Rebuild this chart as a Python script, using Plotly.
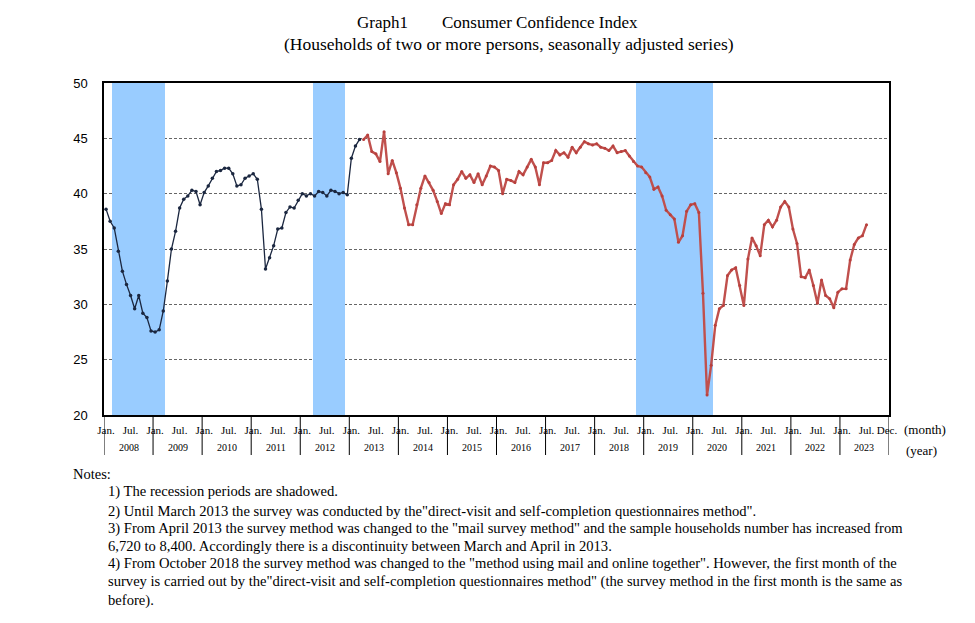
import plotly.graph_objects as go

# ---------------- data ----------------
start_year = 2008
end_year = 2023
# Jan 2008 - Mar 2013 (direct-visit survey)
values_old = [
    38.6, 37.5, 36.9, 34.8, 33.0, 31.8, 30.8, 29.6, 30.8, 29.2, 28.8, 27.6,   # 2008
    27.5, 27.7, 29.4, 32.1, 35.0, 36.6, 38.7, 39.5, 39.8, 40.3, 40.2, 39.0,   # 2009
    40.1, 40.7, 41.4, 42.0, 42.1, 42.3, 42.3, 41.8, 40.7, 40.8, 41.4, 41.6,   # 2010
    41.8, 41.3, 38.6, 33.2, 34.2, 35.3, 36.8, 36.9, 38.3, 38.8, 38.7, 39.4,   # 2011
    40.0, 39.8, 40.0, 39.8, 40.2, 40.1, 39.8, 40.3, 40.2, 40.0, 40.1, 39.9,   # 2012
    43.2, 44.3, 44.9,                                                         # 2013 Jan-Mar
]
# Apr 2013 - Jul 2023 (mail / mail+online survey)
values_new = [
    44.9, 45.3, 43.8, 43.6, 42.9, 45.6, 41.8, 43.0, 41.9,                     # 2013 Apr-Dec
    40.5, 38.7, 37.2, 37.2, 39.0, 40.5, 41.6, 41.0, 40.3, 39.3, 38.2, 39.1,   # 2014
    39.0, 40.8, 41.3, 42.0, 41.4, 41.7, 41.0, 41.8, 40.8, 41.6, 42.5, 42.4,   # 2015
    42.1, 40.0, 41.3, 41.2, 41.0, 42.0, 41.7, 42.4, 43.1, 42.4, 40.8, 42.8,   # 2016
    42.8, 43.0, 43.9, 43.5, 43.7, 43.3, 44.2, 43.7, 44.2, 44.7, 44.5, 44.4,   # 2017
    44.5, 44.2, 44.1, 43.9, 44.3, 43.7, 43.8, 43.9, 43.4, 42.9, 42.5, 42.4,   # 2018
    41.9, 41.5, 40.4, 40.6, 39.8, 38.5, 38.1, 37.7, 35.6, 36.2, 38.4, 39.0,   # 2019
    39.1, 38.3, 31.0, 21.8, 24.5, 28.1, 29.6, 29.9, 32.6, 33.1, 33.3, 31.7,   # 2020
    29.9, 34.1, 36.0, 35.3, 34.4, 37.2, 37.6, 37.0, 37.6, 38.8, 39.3, 38.8,   # 2021
    36.8, 35.5, 32.5, 32.4, 33.1, 31.7, 30.1, 32.2, 30.8, 30.5, 29.7, 31.1,   # 2022
    31.4, 31.4, 34.0, 35.4, 36.0, 36.2, 37.2,                                 # 2023 Jan-Jul
]
# recession periods (peak month, trough month)
recession_peaks = ["2008-02", "2012-03", "2018-10"]
recession_troughs = ["2009-03", "2012-11", "2020-05"]

years = list(range(start_year, end_year + 1))
month_tick_labels = ["Jan.", "Jul."]
last_month_label = "Dec."
y_ticks = [20, 25, 30, 35, 40, 45, 50]

title_line1 = "Graph1" + "\u00a0" * 8 + "Consumer Confidence Index"
title_line2 = "(Households of two or more persons, seasonally adjusted series)"
notes = [
    "1) The recession periods are shadowed.",
    "2) Until March 2013 the survey was conducted by the\"direct-visit and self-completion questionnaires method\".",
    "3) From April 2013 the survey method was changed to the \"mail survey method\" and the sample households number has increased from",
    "6,720 to 8,400. Accordingly there is a discontinuity between March and April in 2013.",
    "4) From October 2018 the survey method was changed to the \"method using mail and online together\". However, the first month of the",
    "survey is carried out by the\"direct-visit and self-completion questionnaires method\" (the survey method in the first month is the same as",
    "before).",
]

# ---------------- helpers ----------------
def month_index(ym):
    y, m = ym.split("-")
    return (int(y) - start_year) * 12 + int(m) - 1

n_months = len(years) * 12
x_old = [i + 0.5 for i in range(len(values_old))]
x_new = [len(values_old) + i + 0.5 for i in range(len(values_new))]

# plot-area geometry (pixels)
W, H = 975, 623
L, R, T, B = 104, 86, 83, 208
PW, PH = W - L - R, H - T - B


def px(xp):
    return (xp - L) / PW


def py(yp):
    return (H - B - yp) / PH


SERIF = "Liberation Serif"
SANS = "Liberation Sans"

fig = go.Figure()

# recession shading (as bars so they sit above gridlines, below lines)
rx, rw = [], []
for p, t in zip(recession_peaks, recession_troughs):
    x0 = month_index(p) + 1
    x1 = month_index(t) + 1
    rx.append((x0 + x1) / 2)
    rw.append(x1 - x0)
fig.add_trace(go.Bar(
    x=rx, y=[y_ticks[-1] - y_ticks[0]] * len(rx), base=y_ticks[0], width=rw,
    marker=dict(color="#99CCFF", line=dict(width=0)),
    hoverinfo="skip", showlegend=False,
))

fig.add_trace(go.Scatter(
    x=x_old, y=values_old, mode="lines+markers",
    line=dict(color="#1B2740", width=1.3),
    marker=dict(size=3.5, color="#1B2740"),
    showlegend=False,
))
fig.add_trace(go.Scatter(
    x=x_new, y=values_new, mode="lines+markers",
    line=dict(color="#C0504D", width=2.4),
    marker=dict(size=3, color="#B8403D"),
    showlegend=False,
))

# x ticks
tickvals, ticktext = [], []
for k, _ in enumerate(years):
    tickvals += [12 * k + 0.5, 12 * k + 6.5]
    ticktext += month_tick_labels
tickvals.append(n_months - 0.5)
ticktext.append(last_month_label)

shapes = []
annotations = []
# year separator lines below the axis
for k in range(len(years) + 1):
    shapes.append(dict(type="line", xref="x", yref="paper",
                       x0=12 * k, x1=12 * k, y0=0, y1=py(455),
                       line=dict(color="black", width=1)))
# year labels
for k, yr in enumerate(years):
    annotations.append(dict(x=12 * k + 6, y=py(448), xref="x", yref="paper",
                            text=str(yr), showarrow=False, xanchor="center",
                            yanchor="middle",
                            font=dict(family=SERIF, size=10, color="black")))
annotations.append(dict(x=px(902), y=py(429), xref="paper", yref="paper",
                        text="(month)", showarrow=False, xanchor="left",
                        yanchor="middle", font=dict(family=SERIF, size=13, color="black")))
annotations.append(dict(x=px(904), y=py(450), xref="paper", yref="paper",
                        text="(year)", showarrow=False, xanchor="left",
                        yanchor="middle", font=dict(family=SERIF, size=13, color="black")))

# titles
annotations.append(dict(x=px(497), y=py(23), xref="paper", yref="paper",
                        text=title_line1, showarrow=False, xanchor="center",
                        yanchor="middle", font=dict(family=SERIF, size=17, color="black")))
annotations.append(dict(x=px(509), y=py(44), xref="paper", yref="paper",
                        text=title_line2, showarrow=False, xanchor="center",
                        yanchor="middle", font=dict(family=SERIF, size=17.5, color="black")))

# notes
annotations.append(dict(x=px(71), y=py(474), xref="paper", yref="paper",
                        text="Notes:", showarrow=False, xanchor="left",
                        yanchor="middle", font=dict(family=SERIF, size=14.5, color="black")))
note_y = [491, 511, 528, 546, 563, 581, 600]
for txt, yy in zip(notes, note_y):
    annotations.append(dict(x=px(106), y=py(yy), xref="paper", yref="paper",
                            text=txt, showarrow=False, xanchor="left",
                            yanchor="middle",
                            font=dict(family=SERIF, size=14.6, color="black")))

fig.update_layout(
    width=W, height=H,
    margin=dict(l=L, r=R, t=T, b=B, pad=0),
    paper_bgcolor="white", plot_bgcolor="white",
    showlegend=False,
    bargap=0,
    shapes=shapes,
    annotations=annotations,
    xaxis=dict(
        range=[0, n_months], tickmode="array", tickvals=tickvals, ticktext=ticktext,
        showgrid=False, zeroline=False, ticks="", tickangle=0,
        showline=True, linecolor="black", linewidth=1.5, mirror=True,
        tickfont=dict(family=SERIF, size=11, color="black"),
        ticklabelstandoff=4,
    ),
    yaxis=dict(
        range=[y_ticks[0], y_ticks[-1]], tickmode="array", tickvals=y_ticks,
        showgrid=True, gridcolor="#666666", gridwidth=1, griddash="3px,2px",
        zeroline=False, ticks="",
        showline=True, linecolor="black", linewidth=1.5, mirror=True,
        tickfont=dict(family=SANS, size=13, color="black"),
        ticklabelstandoff=12,
    ),
)

fig.write_html("out.html")
